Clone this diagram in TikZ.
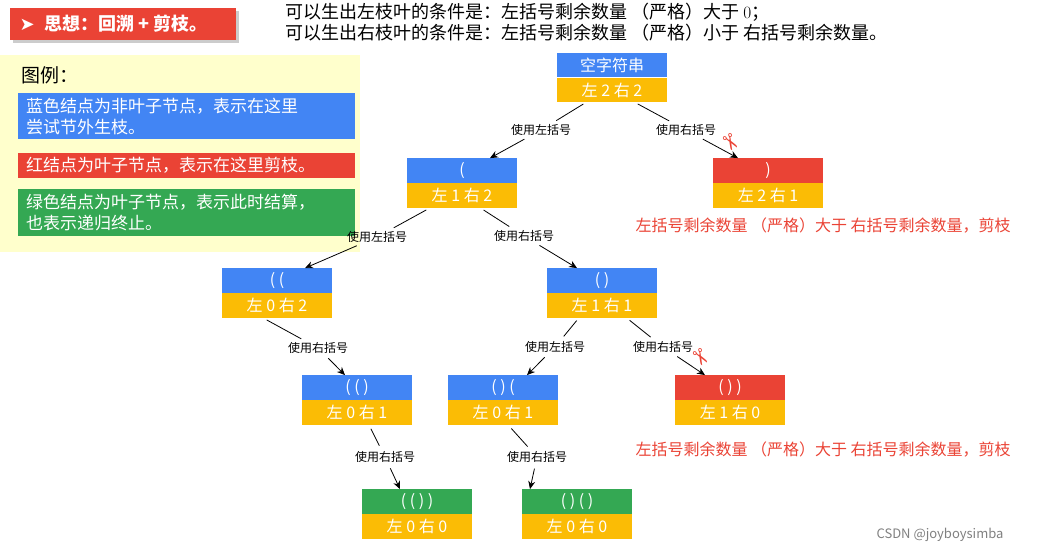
\documentclass[tikz,border=0pt]{standalone}
\usepackage{fontspec}
\setmainfont{Noto Sans CJK SC}
\newfontfamily\dejavu{DejaVu Sans}
\usetikzlibrary{arrows.meta}
\definecolor{gblue}{HTML}{4285F4}
\definecolor{gyel}{HTML}{FBBC05}
\definecolor{gred}{HTML}{EA4335}
\definecolor{ggreen}{HTML}{34A853}
\definecolor{pale}{HTML}{FFFFCC}
\begin{document}
\begin{tikzpicture}[x=1pt,y=-1pt,
  top/.style={fill=#1,minimum width=110pt,minimum height=24.5pt,inner sep=0pt,text=white,font=\fontsize{16}{16}\selectfont,anchor=south},
  bot/.style={fill=gyel,minimum width=110pt,minimum height=24.5pt,inner sep=0pt,text=white,font=\fontsize{16}{16}\selectfont,anchor=north},
  lab/.style={font=\fontsize{12}{12}\selectfont,inner sep=1pt},
  ln/.style={line width=0.8pt,shorten >=5pt,shorten <=2pt},
  arr/.style={line width=0.8pt,shorten <=5pt,-{Stealth[length=8pt,width=7pt]}},
  note/.style={text=gred,font=\fontsize{16}{16}\selectfont,anchor=west},
  leg/.style={anchor=north west,text=white,font=\fontsize{17}{21}\selectfont,align=left,inner sep=0pt,text width=329pt,minimum width=337pt}]
\useasboundingbox (0,0) rectangle (1037,553);
% title
\fill[gray!40] (13,11) rectangle (239,43);
\node[fill=gred,minimum width=226pt,minimum height=32pt,anchor=north west,inner sep=0pt] (title) at (10,8) {};
\node[text=white,font=\fontsize{18}{18}\selectfont\bfseries,anchor=west] (tt) at (16,24) {{\dejavu ➤}\hspace{10pt}思想：回溯 + 剪枝。};
\node[anchor=west,font=\fontsize{18}{18}\selectfont,inner sep=0pt] (c1) at (285,12) {可以生出左枝叶的条件是：左括号剩余数量 （严格）大于 $0$；};
\node[anchor=west,font=\fontsize{18}{18}\selectfont,inner sep=0pt] (c2) at (285,33) {可以生出右枝叶的条件是：左括号剩余数量 （严格）小于 右括号剩余数量。};
% legend
\node[fill=pale,minimum width=360pt,minimum height=197pt,anchor=north west,inner sep=0pt] (legbg) at (0,55) {};
\node[anchor=west,font=\fontsize{19}{19}\selectfont] (lt) at (18,75) {图例：};
\node[leg,fill=gblue,minimum height=46pt] (l1) at (18,93) {\hspace{4pt}蓝色结点为非叶子节点，表示在这里\\\hspace{4pt}尝试节外生枝。};
\node[leg,fill=gred,minimum height=25pt] (l2) at (18,153) {\hspace{4pt}红结点为叶子节点，表示在这里剪枝。};
\node[leg,fill=ggreen,minimum height=47pt] (l3) at (18,189) {\hspace{4pt}绿色结点为叶子节点，表示此时结算，\\\hspace{4pt}也表示递归终止。};
% nodes
\newcommand\tnode[6]{%
 \node[top=#4] (#1) at (#2,#3) {#5};
 \node[bot] (#1b) at (#2,#3) {#6};}
\tnode{r}{612}{77.5}{gblue}{空字符串}{左 2 右 2}
\tnode{a}{462}{183}{gblue}{(}{左 1 右 2}
\tnode{b}{768}{183}{gred}{)}{左 2 右 1}
\tnode{c}{277}{293}{gblue}{( (}{左 0 右 2}
\tnode{d}{602}{293}{gblue}{( )}{左 1 右 1}
\tnode{e}{357}{400}{gblue}{( ( )}{左 0 右 1}
\tnode{f}{503}{400}{gblue}{( ) (}{左 0 右 1}
\tnode{g}{730}{400}{gred}{( ) )}{左 1 右 0}
\tnode{h}{417}{514}{ggreen}{( ( ) )}{左 0 右 0}
\tnode{i}{577}{514}{ggreen}{( ) ( )}{左 0 右 0}
% labels
\node[lab] (ra) at (541,130) {使用左括号};
\node[lab] (rb) at (686,130) {使用右括号};
\node[lab] (ac) at (377,237) {使用左括号};
\node[lab] (ad) at (524,236) {使用右括号};
\node[lab] (ce) at (318,348) {使用右括号};
\node[lab] (df) at (555,347) {使用左括号};
\node[lab] (dg) at (663,347) {使用右括号};
\node[lab] (eh) at (385,457) {使用右括号};
\node[lab] (fi) at (537,457) {使用右括号};
% edges
\draw[ln] (585,103) -- (ra); \draw[arr] (ra) -- (a.north -| 490,0);
\draw[ln] (636,103) -- (rb); \draw[arr] (rb) -- (b.north -| 738,0);
\draw[ln] (428,209) -- (ac); \draw[arr] (ac) -- (c.north -| 305,0);
\draw[ln] (482,209) -- (ad); \draw[arr] (ad) -- (d.north -| 577,0);
\draw[ln] (265,319) -- (ce); \draw[arr] (ce) -- (e.north -| 345,0);
\draw[ln] (578,319) -- (df); \draw[arr] (df) -- (f.north -| 527,0);
\draw[ln] (628,319) -- (dg); \draw[arr] (dg) -- (g.north -| 705,0);
\draw[ln] (370,427) -- (eh); \draw[arr] (eh) -- (h.north -| 400,0);
\draw[ln] (510,427) -- (fi); \draw[arr] (fi) -- (i.north -| 530,0);
% scissors
\node[text=gred,font=\dejavu\fontsize{22}{22}\selectfont,rotate=-60,inner sep=0pt] (s1) at (730,143) {✂};
\node[text=gred,font=\dejavu\fontsize{22}{22}\selectfont,rotate=-60,inner sep=0pt] (s2) at (700,358) {✂};
% notes
\node[note] (n1) at (632,226) {左括号剩余数量 （严格）大于 右括号剩余数量，剪枝};
\node[note] (n2) at (632,450) {左括号剩余数量 （严格）大于 右括号剩余数量，剪枝};
\node[text=gray,font=\fontsize{13}{13}\selectfont] (wm) at (940,535) {CSDN @joyboysimba};
\end{tikzpicture}
\end{document}
